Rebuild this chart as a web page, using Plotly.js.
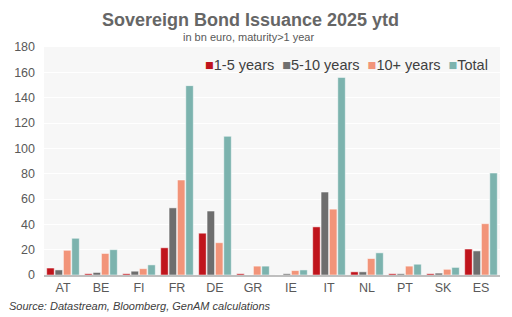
<!DOCTYPE html>
<html><head><meta charset="utf-8">
<script src="https://cdn.plot.ly/plotly-3.0.1.min.js"></script>
<style>html,body{margin:0;padding:0;background:#fff}#c{width:512px;height:317px}</style>
</head><body><div id="c"></div>
<script>
const countries = ["AT","BE","FI","FR","DE","GR","IE","IT","NL","PT","SK","ES"];
const y1_5 = [5.5, 1, 1, 21.5, 33, 1, 0, 38, 2.5, 1, 1, 20.5];
const y5_10 = [4, 2, 3, 53, 50.5, 0, 1, 65.5, 2.5, 1, 1.5, 19];
const y10p = [19.5, 17, 5, 75, 25.5, 7, 3.5, 52, 13, 7, 4.5, 40.5];
const total = [29, 20, 8, 149.5, 109.5, 7, 4, 156, 17.5, 8.5, 6, 80.5];
const seriesNames = ["1-5 years","5-10 years","10+ years","Total"];
const colors = ["#c0141c","#6e6e6e","#f29479","#7cb3ae"];
const data = [y1_5, y5_10, y10p, total].map((v,i)=>({
  type:"bar", x:countries, y:v, name:seriesNames[i], showlegend:false,
  marker:{color:colors[i], line:{color:"#ffffff", width:0.5}}
}));
const legendText = seriesNames.map((n,i)=>"<span style='color:"+colors[i]+"'>■</span>"+n).join("&nbsp;&nbsp;");
const layout = {
  width:512, height:317,
  margin:{l:44, r:12, t:47, b:42},
  paper_bgcolor:"#ffffff", plot_bgcolor:"#f7f7f7",
  font:{family:"Liberation Sans, Arial, sans-serif", color:"#595959", size:12.5},
  barmode:"group", bargap:0.12, bargroupgap:0.1,
  xaxis:{showgrid:false, ticks:"", tickfont:{size:12.5, color:"#595959"}, showline:true, linecolor:"#bfbfbf", linewidth:1.5, fixedrange:true},
  yaxis:{range:[0,180], dtick:20, gridcolor:"#ffffff", gridwidth:1, zeroline:false, tickfont:{size:12.5, color:"#595959"}, ticks:"", ticklabelstandoff:8, fixedrange:true},
  showlegend:false,
  annotations:[
    {text:"<b>Sovereign Bond Issuance 2025 ytd</b>", xref:"paper", yref:"paper", x:(250-44)/456, y:1, yshift:27, xanchor:"center", yanchor:"middle", showarrow:false, font:{size:18, color:"#666666"}},
    {text:"in bn euro, maturity>1 year", xref:"paper", yref:"paper", x:(248-44)/456, xanchor:"center", y:1, yshift:10, yanchor:"middle", showarrow:false, font:{size:11, color:"#595959"}},
    {text:legendText, xref:"paper", yref:"paper", x:1, xshift:-10, y:1, yshift:-18, xanchor:"right", yanchor:"middle", showarrow:false, font:{size:14.5, color:"#404040"}},
    {text:"<i>Source: Datastream, Bloomberg, GenAM calculations</i>", xref:"paper", yref:"paper", x:0, xshift:-37, y:0, yshift:-31, xanchor:"left", yanchor:"middle", showarrow:false, font:{size:11, color:"#404040"}}
  ]
};
Plotly.newPlot("c", data, layout, {displayModeBar:false, staticPlot:true});
</script></body></html>
